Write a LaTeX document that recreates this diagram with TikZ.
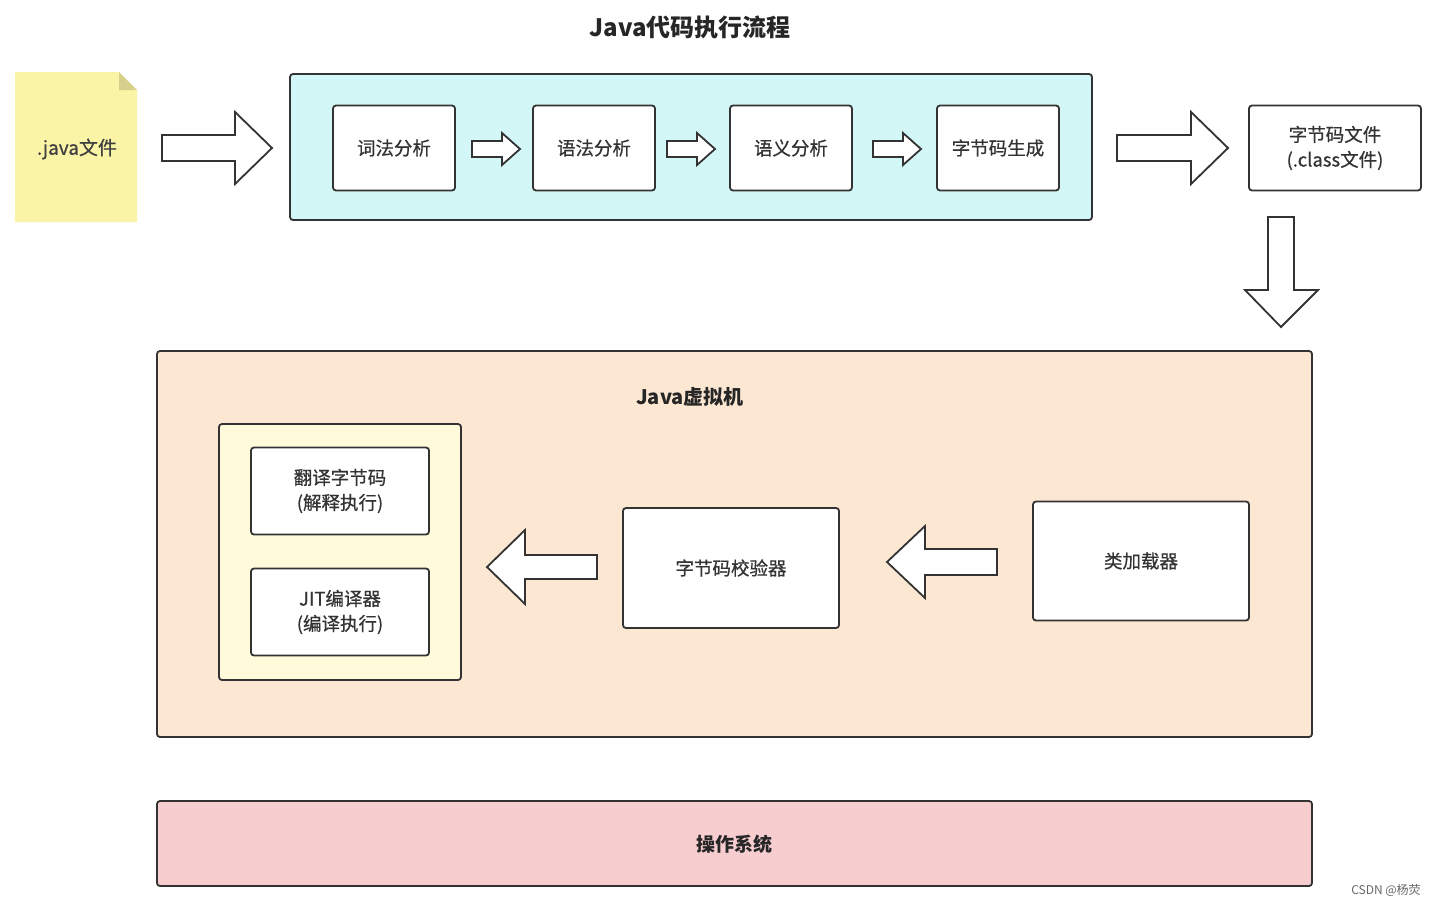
\documentclass[tikz,border=0pt]{standalone}
\usepackage{fontspec}
\setmainfont{Noto Sans CJK SC}
\newfontfamily\medfont[FakeBold=0.6]{Noto Sans CJK SC}
\usetikzlibrary{calc}
\definecolor{linec}{HTML}{333333}
\definecolor{cyanbg}{HTML}{D3F6F6}
\definecolor{peach}{HTML}{FCE7D3}
\definecolor{pinkbg}{HTML}{F8CDD0}
\definecolor{noteyel}{HTML}{FAF4A6}
\definecolor{notefold}{HTML}{D6D08C}
\definecolor{innery}{HTML}{FFFBDA}
\tikzset{
  box/.style={draw=linec, line width=1.8pt, rounded corners=3pt, fill=white, align=center, inner sep=0pt, font=\medfont\fontsize{18.5}{25}\selectfont, text=black!80},
  region/.style={draw=linec, line width=1.8pt, rounded corners=3pt},
  arr/.style={draw=linec, line width=1.8pt, fill=white, line join=miter},
  ttl/.style={font=\fontsize{24}{28}\selectfont\bfseries, text=black!85},
}
\newcommand\arrR[6]{\draw[arr] (#1,#3-#4) -- (#2-#6,#3-#4) -- (#2-#6,#3-#5) -- (#2,#3) -- (#2-#6,#3+#5) -- (#2-#6,#3+#4) -- (#1,#3+#4) -- cycle;}
\newcommand\arrL[6]{\draw[arr] (#1,#3-#4) -- (#2+#6,#3-#4) -- (#2+#6,#3-#5) -- (#2,#3) -- (#2+#6,#3+#5) -- (#2+#6,#3+#4) -- (#1,#3+#4) -- cycle;}
\begin{document}
\begin{tikzpicture}[x=1pt,y=-1pt]
\useasboundingbox (0,0) rectangle (1435,905);
\fill[white] (0,0) rectangle (1435,905);
% title
\node[ttl] (title) at (690,27) {Java代码执行流程};
% java file note
\fill[noteyel] (15,72) -- (119,72) -- (137,90) -- (137,222) -- (15,222) -- cycle;
\fill[notefold] (119,72) -- (137,90) -- (119,90) -- cycle;
\node[font=\medfont\fontsize{19}{23}\selectfont, text=black!75] (java) at (77,149) {.java文件};
% compile region
\draw[region, fill=cyanbg] (290,74) rectangle (1092,220);
\node[box, minimum width=122pt, minimum height=85pt] (lex) at (394,148) {词法分析};
\node[box, minimum width=122pt, minimum height=85pt] (syn) at (594,148) {语法分析};
\node[box, minimum width=122pt, minimum height=85pt] (sem) at (791,148) {语义分析};
\node[box, minimum width=122pt, minimum height=85pt] (gen) at (998,148) {字节码生成};
\node[box, minimum width=172pt, minimum height=85pt] (cls) at (1335,148) {字节码文件\\(.class文件)};
% arrows top
\arrR{162}{272}{148}{13}{36}{37}
\arrR{472}{520}{149}{8}{16}{18}
\arrR{667}{715}{149}{8}{16}{18}
\arrR{873}{921}{149}{8}{16}{18}
\arrR{1117}{1228}{148}{13}{36}{37}
% down arrow
\draw[arr] (1268,217) -- (1294,217) -- (1294,290) -- (1318,290) -- (1281,327) -- (1245,290) -- (1268,290) -- cycle;
% JVM
\draw[region, fill=peach] (157,351) rectangle (1312,737);
\node[ttl, font=\fontsize{20}{24}\selectfont\bfseries] (jvm) at (690,397) {Java虚拟机};
\draw[region, fill=innery] (219,424) rectangle (461,680);
\node[box, minimum width=178pt, minimum height=87pt] (interp) at (340,491) {翻译字节码\\(解释执行)};
\node[box, minimum width=178pt, minimum height=87pt] (jit) at (340,612) {JIT编译器\\(编译执行)};
\node[box, minimum width=216pt, minimum height=120pt] (verify) at (731,568) {字节码校验器};
\node[box, minimum width=216pt, minimum height=119pt] (loader) at (1141,561) {类加载器};
\arrL{597}{487}{567}{12}{37}{38}
\arrL{997}{887}{562}{13}{36}{38}
% OS
\draw[region, fill=pinkbg] (157,801) rectangle (1312,886);
\node[font=\fontsize{19}{23}\selectfont\bfseries, text=black!85] (os) at (734,844) {操作系统};
% watermark
\node[font=\fontsize{12}{14}\selectfont, text=black!60] (wm) at (1386,890) {CSDN @杨荧};
\end{tikzpicture}
\end{document}
